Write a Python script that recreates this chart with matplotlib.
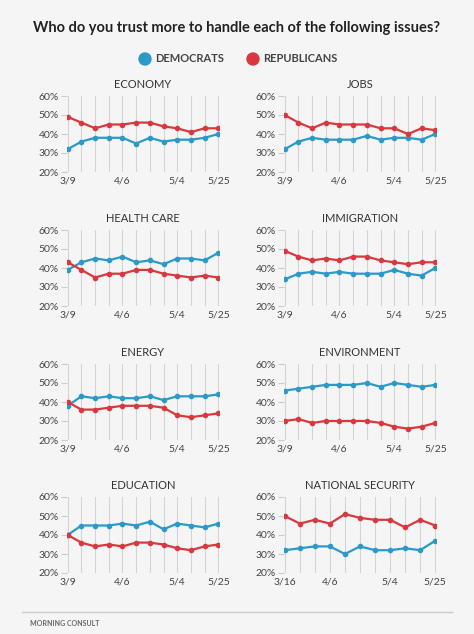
import matplotlib.pyplot as plt
import matplotlib.patches as mpatches
import numpy as np

W, H = 474, 634
BG = "#f5f5f5"
BLUE = "#2b9ac9"
RED = "#d9393e"

weeks = ["3/9", "3/16", "3/23", "3/30", "4/6", "4/13", "4/20", "4/27", "5/4", "5/11", "5/18", "5/25"]
tick_weeks = ["3/9", "4/6", "5/4", "5/25"]

titles = ["ECONOMY", "JOBS", "HEALTH CARE", "IMMIGRATION",
          "ENERGY", "ENVIRONMENT", "EDUCATION", "NATIONAL SECURITY"]
dem = [
    [32, 36, 38, 38, 38, 35, 38, 36, 37, 37, 38, 40],
    [32, 36, 38, 37, 37, 37, 39, 37, 38, 38, 37, 40],
    [39, 43, 45, 44, 46, 43, 44, 42, 45, 45, 44, 48],
    [34, 37, 38, 37, 38, 37, 37, 37, 39, 37, 36, 40],
    [38, 43, 42, 43, 42, 42, 43, 41, 43, 43, 43, 44],
    [46, 47, 48, 49, 49, 49, 50, 48, 50, 49, 48, 49],
    [40, 45, 45, 45, 46, 45, 47, 43, 46, 45, 44, 46],
    [32, 33, 34, 34, 30, 34, 32, 32, 33, 32, 37],
]
rep = [
    [49, 46, 43, 45, 45, 46, 46, 44, 43, 41, 43, 43],
    [50, 46, 43, 46, 45, 45, 45, 43, 43, 40, 43, 42],
    [43, 39, 35, 37, 37, 39, 39, 37, 36, 35, 36, 35],
    [49, 46, 44, 45, 44, 46, 46, 44, 43, 42, 43, 43],
    [40, 36, 36, 37, 38, 38, 38, 37, 33, 32, 33, 34],
    [30, 31, 29, 30, 30, 30, 30, 29, 27, 26, 27, 29],
    [40, 36, 34, 35, 34, 36, 36, 35, 33, 32, 34, 35],
    [50, 46, 48, 46, 51, 49, 48, 48, 44, 48, 45],
]
ns_weeks = weeks[1:]
ns_ticks = ["3/16", "4/6", "5/4", "5/25"]

fig = plt.figure(figsize=(W / 100, H / 100), dpi=100, facecolor=BG)
plt.rcParams["font.family"] = ["Lato", "DejaVu Sans"]

fig.text(0.5, 1 - 28 / H, "Who do you trust more to handle each of the following issues?",
         ha="center", va="center", fontsize=10.5, fontweight="bold", color="#222222")
for x0, lab, c in [(145, "DEMOCRATS", BLUE), (253, "REPUBLICANS", RED)]:
    fig.patches.append(mpatches.Ellipse((x0 / W, 1 - 59 / H), 12 / W, 12 / H,
                                        transform=fig.transFigure, color=c))
    fig.text((x0 + 10) / W, 1 - 59 / H, lab, ha="left", va="center", fontsize=8,
             fontweight="bold", color="#444444")

tops = [96, 230, 364, 497]
lefts = [67, 284]
pw, ph = 152, 76
for i, t in enumerate(titles):
    r, c = divmod(i, 2)
    ax = fig.add_axes([lefts[c] / W, 1 - (tops[r] + ph) / H, pw / W, ph / H])
    ax.set_facecolor(BG)
    wk = ns_weeks if i == 7 else weeks
    tk = ns_ticks if i == 7 else tick_weeks
    x = np.arange(len(wk))
    for xi in x:
        ax.axvline(xi, color="#d4d4d4", lw=0.8, zorder=0)
    ax.plot(x, dem[i], color=BLUE, lw=1.6, marker="o", ms=3)
    ax.plot(x, rep[i], color=RED, lw=1.6, marker="o", ms=3)
    ax.set_ylim(20, 60)
    ax.set_xlim(-0.05, len(wk) - 0.95)
    ax.set_yticks([20, 30, 40, 50, 60])
    ax.set_yticklabels([f"{v}%" for v in range(20, 61, 10)])
    ax.set_xticks([wk.index(s) for s in tk])
    ax.set_xticklabels(tk)
    for s in ax.spines.values():
        s.set_visible(False)
    ax.tick_params(axis="y", length=4, color="#cccccc", labelsize=7.5, labelcolor="#444444", pad=2)
    ax.tick_params(axis="x", length=0, labelsize=7.5, labelcolor="#444444", pad=3)
    ax.set_title(t, fontsize=8, color="#333333", pad=6)

fig.add_artist(plt.Line2D([22 / W, 452 / W], [1 - 612 / H, 1 - 612 / H], color="#cccccc", lw=1))
fig.text(30 / W, 1 - 623 / H, "MORNING CONSULT", fontsize=5, fontweight="bold",
         color="#666666", va="center")

fig.savefig("out.png", dpi=100, facecolor=BG)
